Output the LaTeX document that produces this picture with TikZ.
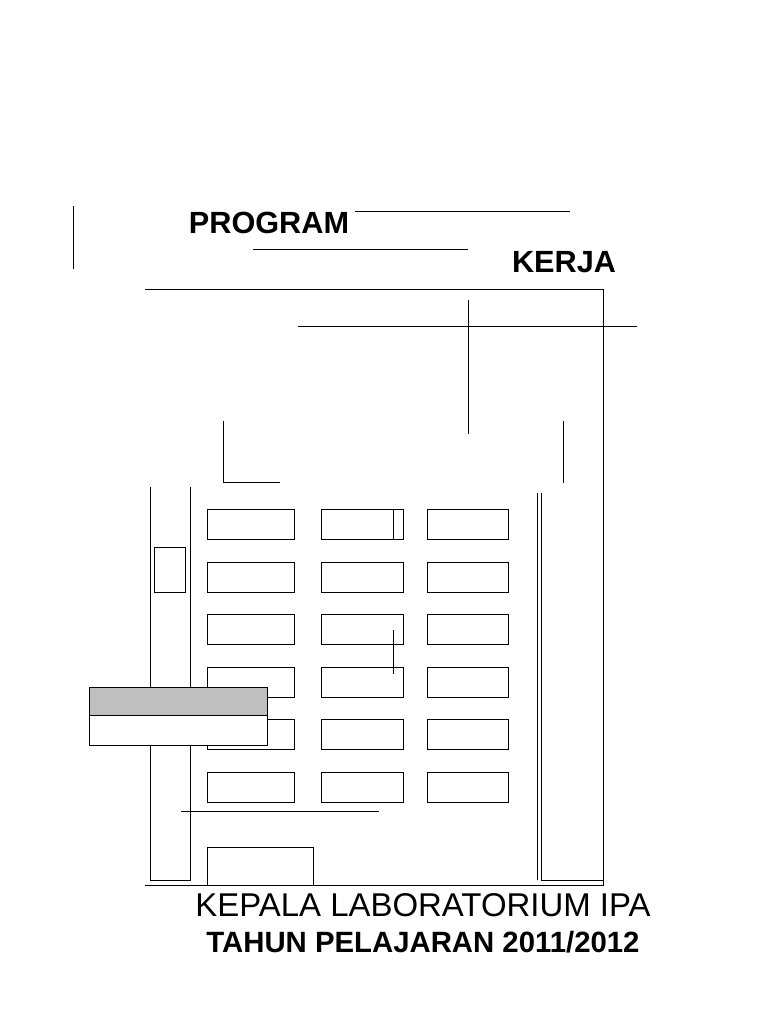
\documentclass[tikz,border=0pt]{standalone}
\usepackage{fontspec}
\setmainfont{Liberation Sans}
\begin{document}
\begin{tikzpicture}[x=0.75pt,y=-0.75pt,line width=0.7pt]
\useasboundingbox (0,0) rectangle (768,1024);
\draw (73,206)--(73,269);
\node[font=\bfseries\fontsize{23}{27}\selectfont] (p) at (269,223) {PROGRAM};
\node[font=\bfseries\fontsize{23}{27}\selectfont] (k) at (564,262) {KERJA};
\draw (355,211)--(570,211);
\draw (253,249)--(468,249);
\draw (145,289)--(603,289)--(603,885)--(145,885);
\draw (298,326)--(637,326);
\draw (468,300)--(468,434);
\draw (223,421)--(223,482)--(280,482);
\draw (563,421)--(563,483);
\draw (150,487)--(150,880)--(190,880)--(190,487);
\draw (154,547) rectangle (185,592);
\draw (537,493)--(537,880);
\draw (541,493)--(541,880)--(603,880);
\foreach \y in {509,562,614,667,719,772}{
 \draw (207,\y) rectangle (294,\y+30);
 \draw (321,\y) rectangle (403,\y+30);
 \draw (427,\y) rectangle (508,\y+30);
}
\draw (393,509)--(393,539);
\draw (393,630)--(393,674);
\draw[fill=black!25] (89,687) rectangle (267,715);
\draw[fill=white] (89,715) rectangle (267,745);
\draw (181,811)--(379,811);
\draw (207,885)--(207,847)--(313,847)--(313,885);
\node[font=\fontsize{24.7}{29}\selectfont] (t1) at (423,905) {KEPALA LABORATORIUM IPA};
\node[font=\bfseries\fontsize{22}{26}\selectfont] (t2) at (423,942) {TAHUN PELAJARAN 2011/2012};
\end{tikzpicture}
\end{document}
